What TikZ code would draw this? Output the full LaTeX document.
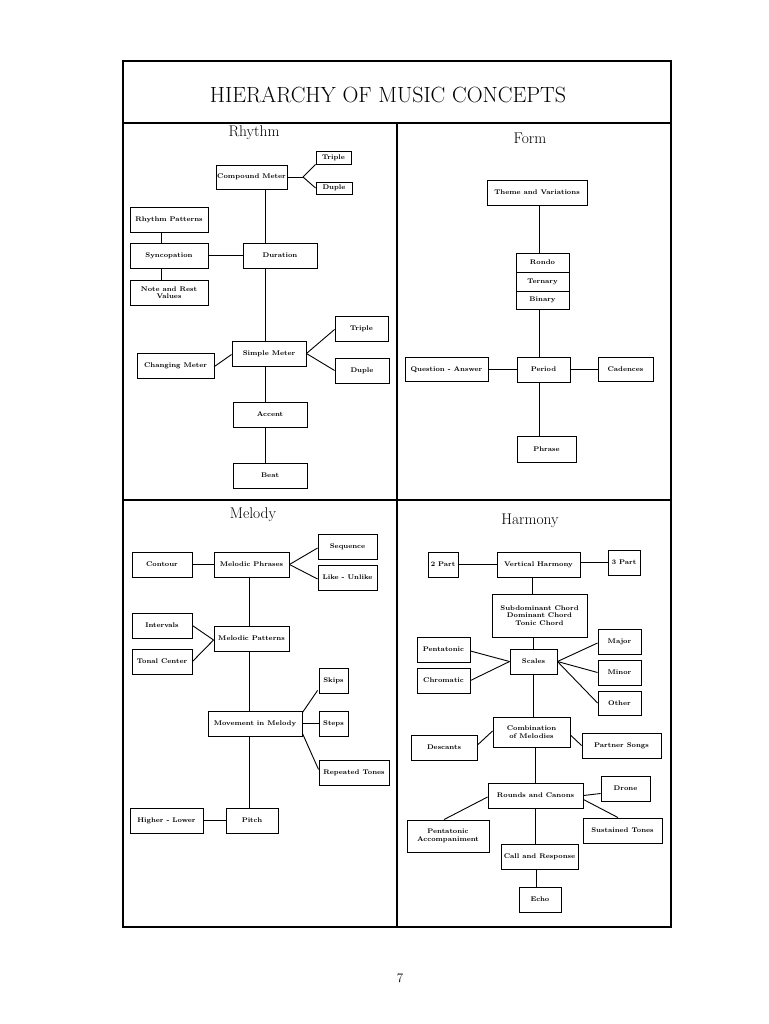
\documentclass[tikz,border=0pt]{standalone}
\begin{document}
\begin{tikzpicture}[x=1pt,y=-1pt,
  bx/.style={draw, line width=0.9pt, inner sep=0pt, align=center, font=\fontsize{6.8}{7.6}\selectfont\bfseries},
  ln/.style={line width=0.9pt},
  frame/.style={line width=1.8pt},
  qtitle/.style={font=\fontsize{15.5}{17}\selectfont}]
\useasboundingbox (0,0) rectangle (768,1024);
\fill[white] (0,0) rectangle (768,1024);
% frame
\draw[frame] (123,61) rectangle (671,927);
\draw[frame] (123,123) -- (671,123);
\draw[frame] (397,123) -- (397,927);
\draw[frame] (123,500) -- (671,500);
\node (title) at (388,95) {\fontsize{22}{24}\selectfont HIERARCHY OF MUSIC CONCEPTS};
\node (pg) at (400,978) {\fontsize{13}{14}\selectfont 7};
% ---------------- Rhythm
\node[qtitle] (trh) at (254,133) {Rhythm};
\coordinate (rx) at (265.5,0);
\node[bx, minimum width=71pt, minimum height=24pt] (cm) at (251.5,177) {Compound Meter};
\node[bx, minimum width=35pt, minimum height=13pt] (tra) at (333.5,157.5) {Triple};
\node[bx, minimum width=36pt, minimum height=12pt] (dua) at (334,188) {Duple};
\node[bx, minimum width=78pt, minimum height=25pt] (rp) at (169,219.5) {Rhythm Patterns};
\node[bx, minimum width=78pt, minimum height=25pt] (sy) at (169,255.5) {Syncopation};
\node[bx, minimum width=78pt, minimum height=25pt] (nr) at (169,292.5) {Note and Rest\\Values};
\node[bx, minimum width=74pt, minimum height=25pt] (du) at (280,255.5) {Duration};
\node[bx, minimum width=74pt, minimum height=25pt] (sm) at (269,353.5) {Simple Meter};
\node[bx, minimum width=53pt, minimum height=25pt] (trb) at (361.5,328.5) {Triple};
\node[bx, minimum width=54pt, minimum height=25pt] (dub) at (362,370.5) {Duple};
\node[bx, minimum width=77pt, minimum height=25pt] (chm) at (175.5,365.5) {Changing Meter};
\node[bx, minimum width=74pt, minimum height=25pt] (ac) at (270,414.5) {Accent};
\node[bx, minimum width=74pt, minimum height=25pt] (be) at (270,475.5) {Beat};
\coordinate (cmf) at (303,177);
\draw[ln] (cm.east) -- (cmf);
\draw[ln] (cmf) -- (tra.south west);
\draw[ln] (cmf) -- (dua.west);
\draw[ln] (cm.south -| rx) -- (du.north -| rx);
\draw[ln] (du.south -| rx) -- (sm.north -| rx);
\draw[ln] (sm.south -| rx) -- (ac.north -| rx);
\draw[ln] (ac.south -| rx) -- (be.north -| rx);
\draw[ln] (rp.south -| 161,0) -- (sy.north -| 161,0);
\draw[ln, line width=0.6pt] (sy.south -| 161,0) -- (nr.north -| 161,0);
\draw[ln] (sy.east) -- (du.west);
\draw[ln] (sm.east) -- ([yshift=-1pt]trb.west);
\draw[ln] (sm.east) -- (dub.west);
\draw[ln] ([yshift=-1pt]chm.east) -- ([yshift=-1pt]sm.west);
% ---------------- Form
\node[qtitle] (tfo) at (530,138) {Form};
\coordinate (fx) at (539,0);
\node[bx, minimum width=100pt, minimum height=25pt] (tv) at (537,192.5) {Theme and Variations};
\node[bx, minimum width=53pt, minimum height=19pt] (ro) at (542.5,262.5) {Rondo};
\node[bx, minimum width=53pt, minimum height=19pt] (te) at (542.5,281.5) {Ternary};
\node[bx, minimum width=53pt, minimum height=18pt] (bi) at (542.5,300) {Binary};
\node[bx, minimum width=53pt, minimum height=25pt] (pe) at (543.5,369.5) {Period};
\node[bx, minimum width=83pt, minimum height=24pt] (qa) at (446.5,369.5) {Question - Answer};
\node[bx, minimum width=55pt, minimum height=24pt] (ca) at (625.5,369.5) {Cadences};
\node[bx, minimum width=59pt, minimum height=26pt] (ph) at (546.5,449) {Phrase};
\draw[ln] (tv.south -| fx) -- (ro.north -| fx);
\draw[ln] (bi.south -| fx) -- (pe.north -| fx);
\draw[ln] (pe.south -| fx) -- (ph.north -| fx);
\draw[ln] (qa.east) -- (pe.west);
\draw[ln] (pe.east) -- (ca.west);
% ---------------- Melody
\node[qtitle] (tme) at (253,515) {Melody};
\coordinate (mx) at (249,0);
\node[bx, minimum width=60pt, minimum height=25pt] (co) at (162,564.5) {Contour};
\node[bx, minimum width=75pt, minimum height=25pt] (mph) at (251.5,564.5) {Melodic Phrases};
\node[bx, minimum width=59pt, minimum height=25pt] (se) at (347.5,546.5) {Sequence};
\node[bx, minimum width=59pt, minimum height=25pt] (lu) at (347.5,577.5) {Like - Unlike};
\node[bx, minimum width=60pt, minimum height=25pt] (iv) at (162,625.5) {Intervals};
\node[bx, minimum width=60pt, minimum height=25pt] (tc) at (162,661.5) {Tonal Center};
\node[bx, minimum width=75pt, minimum height=25pt] (mpa) at (251.5,638.5) {Melodic Patterns};
\node[bx, minimum width=29pt, minimum height=25pt] (sk) at (333.5,680.5) {Skips};
\node[bx, minimum width=94pt, minimum height=25pt] (mim) at (255,723.5) {Movement in Melody};
\node[bx, minimum width=29pt, minimum height=25pt] (st) at (333.5,723.5) {Steps};
\node[bx, minimum width=70pt, minimum height=25pt] (rt) at (354,772.5) {Repeated Tones};
\node[bx, minimum width=52pt, minimum height=25pt] (pi) at (252,820.5) {Pitch};
\node[bx, minimum width=73pt, minimum height=25pt] (hl) at (166.5,820.5) {Higher - Lower};
\draw[ln] (co.east) -- (mph.west);
\draw[ln] (mph.east) -- ([yshift=-1.5pt]se.west);
\draw[ln] (mph.east) -- ([yshift=-1.5pt]lu.west);
\draw[ln] (mph.south -| mx) -- (mpa.north -| mx);
\draw[ln] (mpa.south -| mx) -- (mim.north -| mx);
\draw[ln] (mim.south -| mx) -- (pi.north -| mx);
\draw[ln] (iv.east) -- ([yshift=-1.5pt]mpa.west);
\draw[ln] (tc.east) -- ([yshift=-1.5pt]mpa.west);
\draw[ln] ([yshift=-2pt]mim.north east) -- ([xshift=-1pt,yshift=3pt]sk.south west);
\draw[ln] (mim.east) -- (st.west);
\draw[ln] ([yshift=3pt]mim.south east) -- ([yshift=3pt]rt.west);
\draw[ln] (hl.east) -- (pi.west);
% ---------------- Harmony
\node[qtitle] (tha) at (530,521) {Harmony};
\node[bx, minimum width=30pt, minimum height=25pt] (pta) at (443,564.5) {2 Part};
\node[bx, minimum width=83pt, minimum height=25pt] (vh) at (538.5,564.5) {Vertical Harmony};
\node[bx, minimum width=32pt, minimum height=25pt] (ptb) at (624,562.5) {3 Part};
\node[bx, minimum width=95pt, minimum height=43pt] (ch) at (539.5,615.5) {Subdominant Chord\\Dominant Chord\\Tonic Chord};
\node[bx, minimum width=53pt, minimum height=25pt] (pn) at (443.5,649.5) {Pentatonic};
\node[bx, minimum width=53pt, minimum height=25pt] (cr) at (443.5,680.5) {Chromatic};
\node[bx, minimum width=47pt, minimum height=25pt] (sc) at (533.5,661.5) {Scales};
\node[bx, minimum width=43pt, minimum height=25pt] (ma) at (619.5,641.5) {Major};
\node[bx, minimum width=43pt, minimum height=25pt] (mi) at (619.5,672.5) {Minor};
\node[bx, minimum width=43pt, minimum height=24pt] (ot) at (619.5,703) {Other};
\node[bx, minimum width=77pt, minimum height=30pt] (cob) at (531.5,732) {Combination\\of Melodies};
\node[bx, minimum width=66pt, minimum height=25pt] (de) at (444,747.5) {Descants};
\node[bx, minimum width=79pt, minimum height=25pt] (ps) at (621.5,745.5) {Partner Songs};
\node[bx, minimum width=95pt, minimum height=25pt] (rc) at (535.5,795.5) {Rounds and Canons};
\node[bx, minimum width=49pt, minimum height=25pt] (dr) at (625.5,788.5) {Drone};
\node[bx, minimum width=79pt, minimum height=25pt] (sut) at (622.5,830.5) {Sustained Tones};
\node[bx, minimum width=82pt, minimum height=32pt] (pac) at (448,836) {Pentatonic\\Accompaniment};
\node[bx, minimum width=77pt, minimum height=25pt] (cre) at (539.5,856.5) {Call and Response};
\node[bx, minimum width=42pt, minimum height=25pt] (ec) at (540,899.5) {Echo};
\draw[ln] (pta.east) -- (pta.east -| vh.west);
\draw[ln] (ptb.west) -- (ptb.west -| vh.east);
\draw[ln] (vh.south -| 532,0) -- (ch.north -| 532,0);
\draw[ln] (ch.south -| 533,0) -- (sc.north -| 533,0);
\draw[ln] (sc.south -| 533,0) -- (cob.north -| 533,0);
\draw[ln] (cob.south -| 535,0) -- (rc.north -| 535,0);
\draw[ln] (rc.south -| 535,0) -- (cre.north -| 535,0);
\draw[ln] (cre.south -| 536,0) -- (ec.north -| 536,0);
\draw[ln] ([yshift=-1.5pt]pn.east) -- (sc.west);
\draw[ln] (cr.east) -- (sc.west);
\draw[ln] (sc.east) -- ([yshift=-1.5pt]ma.west);
\draw[ln] (sc.east) -- (mi.west);
\draw[ln] (sc.east) -- (ot.west);
\draw[ln] ([yshift=2.5pt]de.east) -- ([yshift=1pt]cob.west);
\draw[ln] ([yshift=-3pt]cob.east) -- (ps.west);
\draw[ln] (rc.east) -- ([yshift=-5pt]dr.west);
\draw[ln] ([yshift=-4pt]rc.east) -- (sut.north west -| 618,0);
\draw[ln] ([yshift=-1.5pt]rc.west) -- (pac.north west -| 444,0);
\end{tikzpicture}
\end{document}
